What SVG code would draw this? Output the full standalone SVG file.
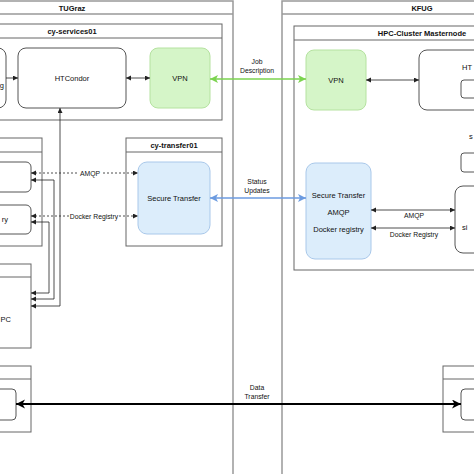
<svg xmlns="http://www.w3.org/2000/svg" width="474" height="474" viewBox="0 0 474 474">
<defs>
<style>
text{font-family:"Liberation Sans",Arial,sans-serif;fill:#111}
.pool{fill:none;stroke:#999;stroke-width:1.5}
.cont{fill:none;stroke:#666;stroke-width:1}
.node{fill:#fff;stroke:#555;stroke-width:1}
.vpn{fill:#d5f5c8;stroke:#b5e2a0;stroke-width:1}
.st{fill:#dcedfb;stroke:#a9c8ea;stroke-width:1}
.title{font-size:7.5px;font-weight:bold;text-anchor:middle}
.ntxt{font-size:7.5px;text-anchor:middle}
.lbl{font-size:6.8px;text-anchor:middle}
.c{fill:none;stroke:#222;stroke-width:0.8}
.dash{stroke-dasharray:2,2}
</style>
<marker id="a" markerUnits="userSpaceOnUse" markerWidth="6" markerHeight="6" refX="5" refY="2.5" orient="auto-start-reverse"><path d="M0,0 L5,2.5 L0,5 Z" fill="#222"/></marker>
<marker id="g" markerUnits="userSpaceOnUse" markerWidth="9" markerHeight="9" refX="8" refY="4" orient="auto-start-reverse"><path d="M0,0 L8,4 L0,8 L2,4 Z" fill="#7bd34f"/></marker>
<marker id="b" markerUnits="userSpaceOnUse" markerWidth="9" markerHeight="9" refX="8" refY="4" orient="auto-start-reverse"><path d="M0,0 L8,4 L0,8 L2,4 Z" fill="#6c9be0"/></marker>
<marker id="k" markerUnits="userSpaceOnUse" markerWidth="10" markerHeight="10" refX="9" refY="4.5" orient="auto-start-reverse"><path d="M0,0 L9,4.5 L0,9 L2.5,4.5 Z" fill="#000"/></marker>
</defs>
<rect width="474" height="474" fill="#fff"/>

<g id="pool-tugraz">
<rect class="pool" x="-100" y="1" width="333" height="480"/>
<line class="pool" x1="-100" y1="14" x2="233" y2="14"/>
<text class="title" x="72" y="11">TUGraz</text>
</g>
<g id="pool-kfug">
<rect class="pool" x="282" y="1" width="300" height="480"/>
<line class="pool" x1="282" y1="14" x2="582" y2="14"/>
<text class="title" x="422" y="11">KFUG</text>
</g>

<g id="cy-services01">
<rect class="cont" x="-10" y="24" width="232" height="96"/>
<line class="cont" x1="-10" y1="38" x2="222" y2="38"/>
<text class="title" x="72" y="34">cy-services01</text>
</g>
<g id="hpc-masternode">
<rect class="cont" x="294" y="26" width="190" height="244"/>
<line class="cont" x1="294" y1="40" x2="484" y2="40"/>
<text class="title" x="422" y="36">HPC-Cluster Masternode</text>
</g>
<g id="cy-transfer01">
<rect class="cont" x="126" y="138" width="96" height="108"/>
<line class="cont" x1="126" y1="152" x2="222" y2="152"/>
<text class="title" x="174" y="148">cy-transfer01</text>
</g>
<g id="left-container2">
<rect class="cont" x="-10" y="138" width="52" height="108"/>
<line class="cont" x1="-10" y1="152" x2="42" y2="152"/>
</g>
<g id="left-container3">
<rect class="cont" x="-10" y="264" width="41" height="84"/>
<line class="cont" x1="-10" y1="277" x2="31" y2="277"/>
<text class="ntxt" x="11" y="322" style="text-anchor:end">PC</text>
</g>
<g id="left-container4">
<rect class="cont" x="-10" y="366" width="41" height="66"/>
<line class="cont" x1="-10" y1="379" x2="31" y2="379"/>
<rect class="node" x="-10" y="389" width="26" height="31" rx="4"/>
</g>
<g id="right-container5">
<rect class="cont" x="443" y="366" width="40" height="66"/>
<line class="cont" x1="443" y1="379" x2="483" y2="379"/>
<rect class="node" x="461" y="389" width="30" height="31" rx="4"/>
</g>

<g id="node-left-partial">
<rect class="node" x="-20" y="48" width="26" height="60" rx="8"/>
<text class="ntxt" x="4" y="88" style="text-anchor:end">g</text>
</g>
<g id="node-htcondor">
<rect class="node" x="18" y="48" width="108" height="60" rx="8"/>
<text class="ntxt" x="72" y="80.5">HTCondor</text>
</g>
<g id="node-vpn-left">
<rect class="vpn" x="150" y="48" width="60" height="60" rx="8"/>
<text class="ntxt" x="180" y="80.5">VPN</text>
</g>
<g id="node-vpn-right">
<rect class="vpn" x="306" y="50" width="60" height="60" rx="8"/>
<text class="ntxt" x="336" y="82.5">VPN</text>
</g>
<g id="node-htcondor-right">
<rect class="node" x="419" y="50" width="70" height="60" rx="8"/>
<text class="ntxt" x="462" y="70" style="text-anchor:start">HT</text>
<rect class="node" x="461" y="80" width="20" height="18" rx="3"/>
</g>
<g id="node-s">
<text class="ntxt" x="469" y="139" style="text-anchor:start">s</text>
<rect class="node" x="461" y="153" width="20" height="19" rx="3"/>
</g>
<g id="node-si">
<rect class="node" x="455" y="186" width="40" height="67" rx="8"/>
<text class="ntxt" x="462" y="230" style="text-anchor:start">si</text>
</g>
<g id="node-secure-transfer-left">
<rect class="st" x="138" y="162" width="72" height="72" rx="9"/>
<text class="ntxt" x="174" y="200.5">Secure Transfer</text>
</g>
<g id="node-secure-transfer-right">
<rect class="st" x="306" y="163" width="65" height="96" rx="9"/>
<text class="ntxt" x="338.5" y="197.5">Secure Transfer</text>
<text class="ntxt" x="338.5" y="214.5">AMQP</text>
<text class="ntxt" x="338.5" y="231.5">Docker registry</text>
</g>
<g id="node-left1">
<rect class="node" x="-10" y="162" width="41" height="30" rx="5"/>
</g>
<g id="node-left2">
<rect class="node" x="-10" y="205" width="41" height="29" rx="5"/>
<text class="ntxt" x="8" y="222" style="text-anchor:end">ry</text>
</g>

<g id="connectors">
<line class="c" x1="6" y1="78" x2="18" y2="78" marker-end="url(#a)"/>
<line class="c" x1="126" y1="78" x2="150" y2="78" marker-start="url(#a)" marker-end="url(#a)"/>
<line x1="210" y1="79" x2="306" y2="79" stroke="#7bd34f" stroke-width="1.5" marker-start="url(#g)" marker-end="url(#g)"/>
<text class="lbl" x="257" y="64">Job</text>
<text class="lbl" x="257" y="73">Description</text>
<line class="c" x1="366" y1="80" x2="419" y2="80" marker-start="url(#a)" marker-end="url(#a)"/>
<line x1="210" y1="198" x2="306" y2="198" stroke="#6c9be0" stroke-width="1.5" marker-start="url(#b)" marker-end="url(#b)"/>
<text class="lbl" x="257" y="184">Status</text>
<text class="lbl" x="257" y="193">Updates</text>
<line class="c dash" x1="31" y1="173" x2="138" y2="173" marker-start="url(#a)" marker-end="url(#a)"/>
<rect x="79" y="168" width="22" height="9" fill="#fff"/>
<text class="lbl" x="90" y="175.5">AMQP</text>
<line class="c dash" x1="31" y1="216" x2="138" y2="216" marker-start="url(#a)" marker-end="url(#a)"/>
<rect x="70" y="211" width="48" height="9" fill="#fff"/>
<text class="lbl" x="94" y="218.5">Docker Registry</text>
<line class="c" x1="371" y1="210" x2="455" y2="210" marker-start="url(#a)" marker-end="url(#a)"/>
<text class="lbl" x="414" y="218">AMQP</text>
<line class="c" x1="371" y1="228" x2="455" y2="228" marker-start="url(#a)" marker-end="url(#a)"/>
<text class="lbl" x="414" y="237">Docker Registry</text>
<polyline class="c" points="31,180 54,180 54,299 31,299" marker-start="url(#a)" marker-end="url(#a)"/>
<polyline class="c" points="31,222 49,222 49,293 31,293" marker-start="url(#a)" marker-end="url(#a)"/>
<polyline class="c" points="60,108 60,306 31,306" marker-start="url(#a)" marker-end="url(#a)"/>
<line x1="16" y1="404" x2="461" y2="404" stroke="#000" stroke-width="2" marker-start="url(#k)" marker-end="url(#k)"/>
<text class="lbl" x="257" y="390">Data</text>
<text class="lbl" x="257" y="399">Transfer</text>
</g>
</svg>
